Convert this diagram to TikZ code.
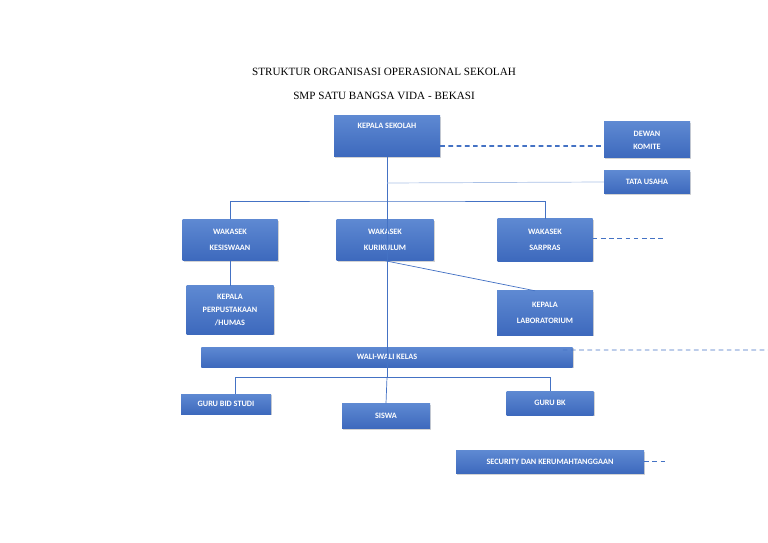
\documentclass[tikz,border=0pt]{standalone}
\usepackage{fontspec}
\setmainfont{Liberation Serif}
\newfontfamily\boxfont{Carlito}
\usetikzlibrary{shadows,positioning}
\definecolor{boxtop}{HTML}{5E89D2}
\definecolor{boxbot}{HTML}{3D69BD}
\definecolor{lnk}{HTML}{4472C4}
\definecolor{lnklight}{HTML}{A9C0E6}
\tikzset{
  unit/.style={rectangle, top color=boxtop, bottom color=boxbot, text=white,
    font=\boxfont\bfseries\fontsize{7}{11}\selectfont, align=center, inner sep=1pt,
    drop shadow={shadow xshift=1pt, shadow yshift=-1pt, opacity=.35}},
  link/.style={draw=lnk, line width=0.6pt},
  soft/.style={draw=lnklight, line width=0.6pt},
  dashlink/.style={draw=lnk, line width=0.8pt, dash pattern=on 4pt off 3pt}
}
\begin{document}
\begin{tikzpicture}[x=0.03cm, y=-0.03cm]
\useasboundingbox (0,0) rectangle (768,543);
%
  \node[font=\fontsize{9.5}{11}\selectfont] (title) at (384,72) {STRUKTUR ORGANISASI OPERASIONAL SEKOLAH};
  \node[font=\fontsize{9.5}{11}\selectfont] (subtitle) at (384,96) {SMP SATU BANGSA VIDA - BEKASI};
%
  \node[unit, minimum width=3.18cm, minimum height=1.23cm] (ks) at (387,136) {KEPALA SEKOLAH\\[6pt]};
  \node[unit, minimum width=2.58cm, minimum height=1.08cm] (komite) at (647,140) {DEWAN\\KOMITE};
  \node[unit, minimum width=2.58cm, minimum height=0.69cm] (tu) at (647,182) {TATA USAHA};
%
  \node[unit, minimum width=2.85cm, minimum height=1.23cm] (kesis) at (230,240) {WAKASEK\\[3pt]KESISWAAN};
  \node[unit, minimum width=2.91cm, minimum height=1.23cm] (kurik) at (385,240) {WAKASEK\\[3pt]KURIKULUM};
  \node[unit, minimum width=2.85cm, minimum height=1.26cm] (sarpras) at (545,240) {WAKASEK\\[3pt]SARPRAS};
%
  \node[unit, minimum width=2.61cm, minimum height=1.44cm] (perpus) at (230,310) {KEPALA\\PERPUSTAKAAN\\/HUMAS};
  \node[unit, minimum width=2.88cm, minimum height=1.32cm] (lab) at (545,313) {KEPALA\\[3pt]LABORATORIUM};
%
  \node[unit, minimum width=11.13cm, minimum height=0.6cm] (wali) at (387,357) {WALI-WALI KELAS};
  \node[unit, minimum width=2.7cm, minimum height=0.6cm] (gbs) at (226,404) {GURU BID STUDI};
  \node[unit, minimum width=2.64cm, minimum height=0.75cm] (siswa) at (386,416) {SISWA};
  \node[unit, minimum width=2.61cm, minimum height=0.72cm] (gbk) at (550,403) {GURU BK};
  \node[unit, minimum width=5.64cm, minimum height=0.69cm] (secur) at (550,462) {SECURITY DAN KERUMAHTANGGAAN};
%
  \coordinate (split) at (387,201);
  \coordinate (tuline) at (387,183);
  \coordinate (walisplit) at (387,377);
  \coordinate (sarprasend) at (665,238);
  \coordinate (waliend) at (768,350);
  \coordinate (securend) at (665,461);
%
  \path[link] (ks.south) -- (walisplit);
  \path[soft] (tuline) -- (tu.west);
  \path[link] (kesis.north) |- (split) -| (sarpras.north);
  \path[link] (kesis.south) -- (perpus.north);
  \path[link] (kurik.south) -- ([xshift=-0.3cm]lab.north);
  \path[link] (walisplit) -| ([xshift=0.27cm]gbs.north);
  \path[link] (walisplit) -| (gbk.north);
  \path[link] (walisplit) -- (siswa.north);
%
  \path[dashlink, line width=1.6pt] ([yshift=-0.3cm]ks.east) -- ([yshift=-0.18cm]komite.west);
  \path[dashlink] ([yshift=0.06cm]sarpras.east) -- (sarprasend);
  \path[dashlink] ([xshift=-0.3cm, yshift=0.21cm]wali.east) -- (waliend);
  \path[dashlink] ([yshift=0.03cm]secur.east) -- (securend);
\end{tikzpicture}
\end{document}
